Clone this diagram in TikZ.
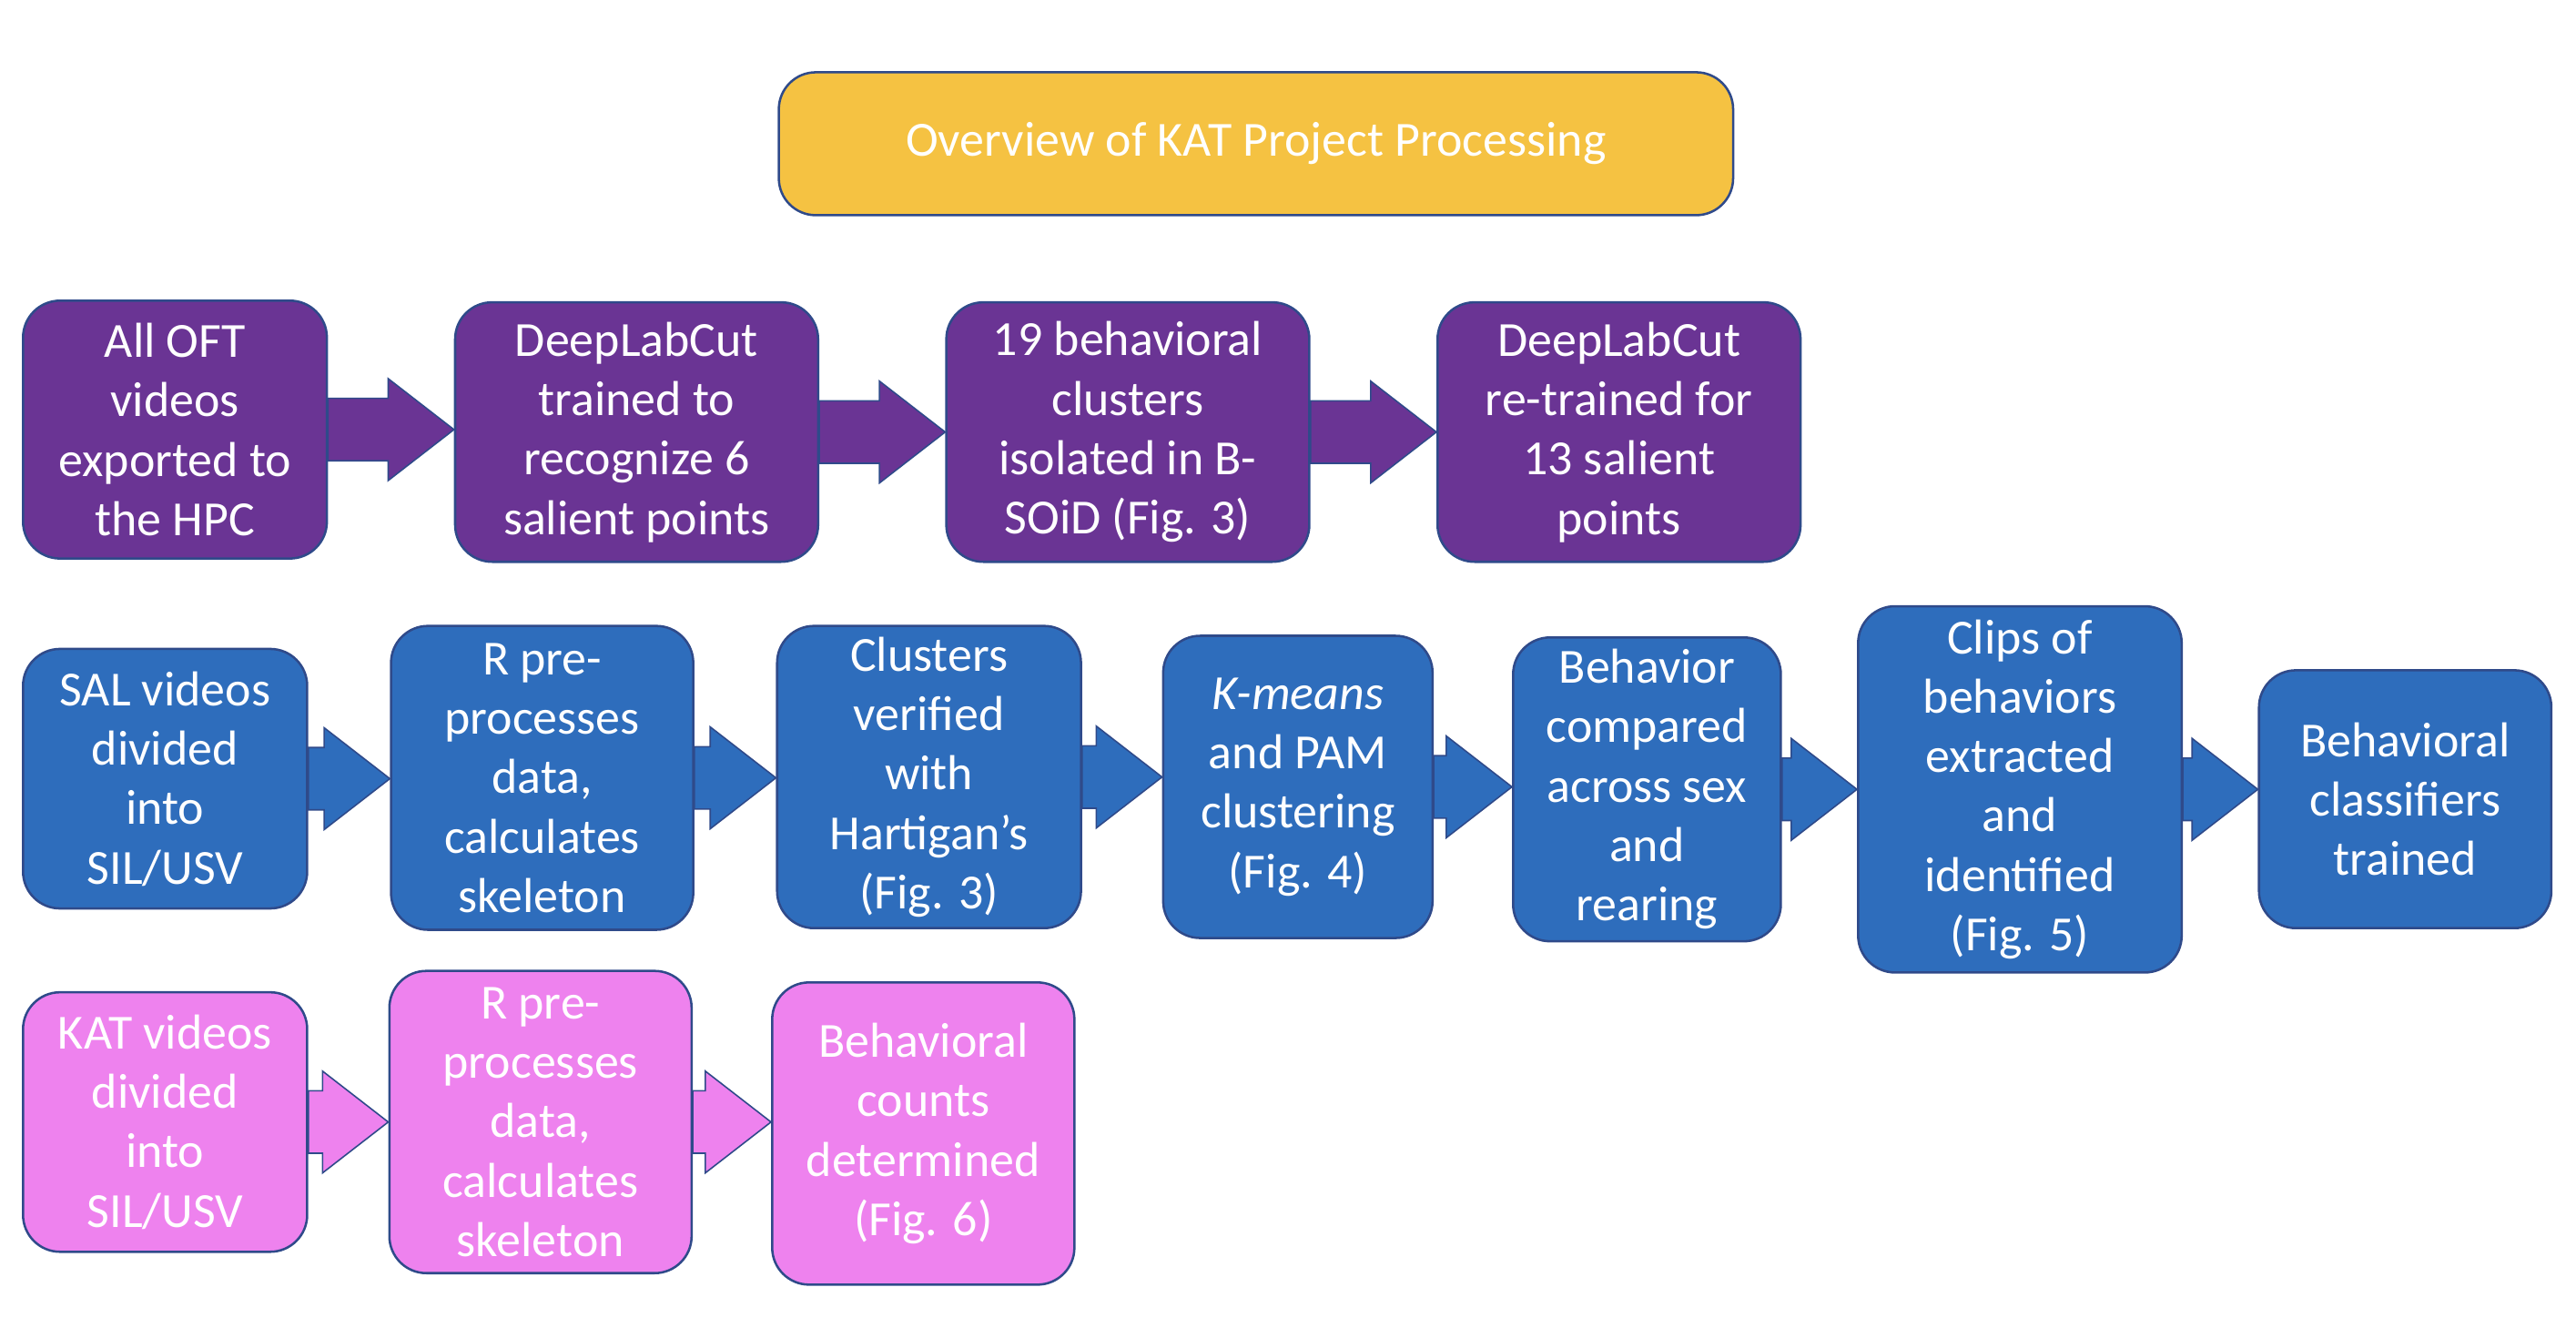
\documentclass[tikz,border=0pt]{standalone}
\usepackage{fontspec}
\setmainfont{Carlito}
\usetikzlibrary{calc}
\begin{document}
\begin{tikzpicture}[x=0.02cm,y=-0.02cm,
  bx/.style={draw=edge,line width=0.8pt,rounded corners=0.45cm,align=center,text=white,inner sep=0pt,font=\fontsize{17}{20.6}\selectfont},
  pu/.style={bx,fill=purp},
  bl/.style={bx,fill=blu},
  pk/.style={bx,fill=pnk}]
\definecolor{edge}{HTML}{2F4A8A}
\definecolor{purp}{HTML}{6A3494}
\definecolor{blu}{HTML}{2E6DBC}
\definecolor{pnk}{HTML}{EE82EE}
\definecolor{gold}{HTML}{F5C242}
\useasboundingbox (0,0) rectangle (1568,814);
\newcommand{\barrow}[3]{\path let \p1=(#1.east), \p2=(#2.west) in
  [fill=#3,draw=edge,line width=0.5pt] (\x1,\y1+0.38cm) -- (\x2-0.8cm,\y1+0.38cm) -- (\x2-0.8cm,\y1+0.62cm) -- (\x2,\y1) -- (\x2-0.8cm,\y1-0.62cm) -- (\x2-0.8cm,\y1-0.38cm) -- (\x1,\y1-0.38cm) -- cycle;}
\node[bx,fill=gold,minimum width=11.62cm,minimum height=1.74cm] (t) at (764.5,87.5) {Overview of KAT Project Processing};
\node[pu,minimum width=3.7cm,minimum height=3.14cm] (a1) at (106.5,261.5) {All OFT\\videos\\exported to\\the HPC};
\node[pu,minimum width=4.42cm,minimum height=3.16cm] (a2) at (387.5,263) {DeepLabCut\\trained to\\recognize 6\\salient points};
\node[pu,minimum width=4.42cm,minimum height=3.16cm] (a3) at (686.5,263) {19 behavioral\\clusters\\isolated in B-\\SOiD (Fig. 3)};
\node[pu,minimum width=4.42cm,minimum height=3.16cm] (a4) at (985.5,263) {DeepLabCut\\re-trained for\\13 salient\\points};
\node[bl,minimum width=3.46cm,minimum height=3.16cm] (b1) at (100.5,474) {SAL videos\\divided\\into\\SIL/USV};
\node[bl,minimum width=3.68cm,minimum height=3.7cm] (b2) at (330,473.5) {R pre-\\processes\\data,\\calculates\\skeleton};
\node[bl,minimum width=3.7cm,minimum height=3.68cm] (b3) at (565.5,473) {Clusters\\verified\\with\\Hartigan’s\\(Fig. 3)};
\node[bl,minimum width=3.28cm,minimum height=3.68cm] (b4) at (790,479) {\textit{K-means}\\and PAM\\clustering\\(Fig. 4)};
\node[bl,minimum width=3.26cm,minimum height=3.7cm] (b5) at (1002.5,480.5) {Behavior\\compared\\across sex\\and\\rearing};
\node[bl,minimum width=3.94cm,minimum height=4.46cm] (b6) at (1229.5,480.5) {Clips of\\behaviors\\extracted\\and\\identified\\(Fig. 5)};
\node[bl,minimum width=3.56cm,minimum height=3.14cm] (b7) at (1464,486.5) {Behavioral\\classifiers\\trained};
\node[pk,minimum width=3.46cm,minimum height=3.16cm] (p1) at (100.5,683) {KAT videos\\divided\\into\\SIL/USV};
\node[pk,minimum width=3.68cm,minimum height=3.68cm] (p2) at (329,683) {R pre-\\processes\\data,\\calculates\\skeleton};
\node[pk,minimum width=3.68cm,minimum height=3.68cm] (p3) at (562,690) {Behavioral\\counts\\determined\\(Fig. 6)};
\barrow{a1}{a2}{purp}\barrow{a2}{a3}{purp}\barrow{a3}{a4}{purp}
\barrow{b1}{b2}{blu}\barrow{b2}{b3}{blu}\barrow{b3}{b4}{blu}\barrow{b4}{b5}{blu}\barrow{b5}{b6}{blu}\barrow{b6}{b7}{blu}
\barrow{p1}{p2}{pnk}\barrow{p2}{p3}{pnk}
\end{tikzpicture}
\end{document}
